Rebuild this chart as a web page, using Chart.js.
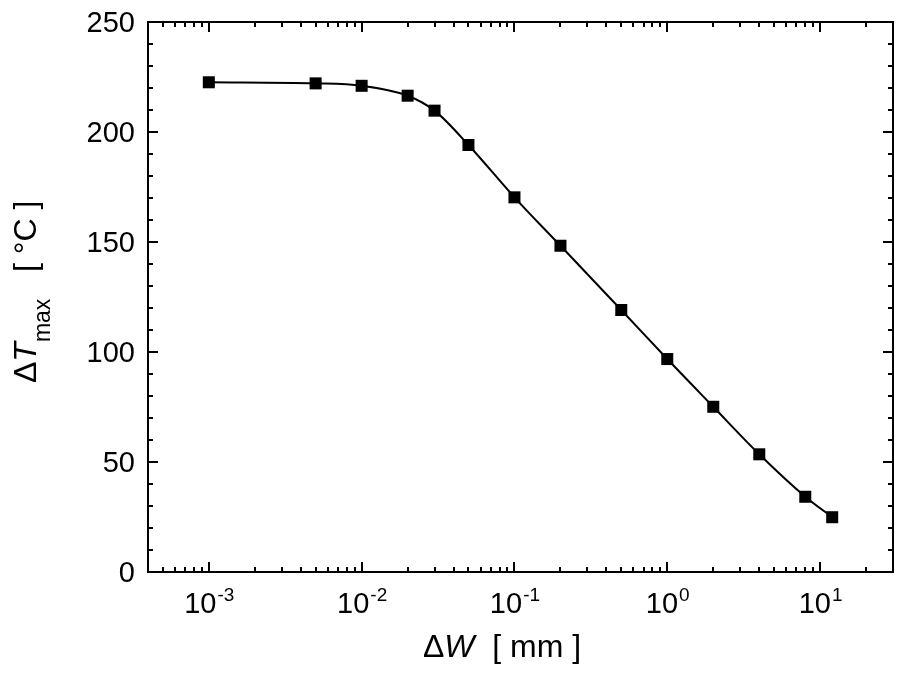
<!DOCTYPE html>
<html>
<head>
<meta charset="utf-8">
<script src="https://cdn.jsdelivr.net/npm/chart.js@4.4.1/dist/chart.umd.min.js"></script>
<style>
  html, body { margin: 0; padding: 0; background: #fff; }
</style>
</head>
<body>
<canvas id="grafico" width="904" height="674"></canvas>
<script>
// Dados: largura ΔW [mm] e ΔTmax [°C]
const larguras = [0.001, 0.005, 0.01, 0.02, 0.03, 0.05, 0.1, 0.2, 0.5, 1, 2, 4, 8, 12];
const deltaT = [222.6, 222.1, 221.0, 216.5, 209.7, 194.1, 170.3, 148.3, 119.1, 96.8, 75.1, 53.5, 34.2, 24.9];
const expoentesX = [-3, -2, -1, 0, 1];
const rotulosY = [0, 50, 100, 150, 200, 250];

const FONTE = "'Liberation Sans', Arial, sans-serif";

// Eixos no estilo Origin: moldura, ticks para dentro, rótulos 10^n e títulos
const eixos = {
  id: 'eixos',
  afterDraw(chart) {
    const ctx = chart.ctx;
    const a = chart.chartArea;
    const sx = chart.scales.x;
    const sy = chart.scales.y;
    ctx.save();
    ctx.strokeStyle = '#000';
    ctx.lineWidth = 2;
    ctx.strokeRect(a.left, a.top, a.right - a.left, a.bottom - a.top);

    ctx.beginPath();
    const eMin = Math.floor(Math.log10(sx.min));
    const eMax = Math.ceil(Math.log10(sx.max));
    for (let e = eMin; e <= eMax; e++) {
      for (let m = 1; m <= 9; m++) {
        const v = m * Math.pow(10, e);
        if (v <= sx.min * 1.001 || v >= sx.max * 0.999) continue;
        const px = Math.round(sx.getPixelForValue(v));
        const len = m === 1 ? 10 : 5;
        ctx.moveTo(px, a.bottom); ctx.lineTo(px, a.bottom - len);
        ctx.moveTo(px, a.top); ctx.lineTo(px, a.top + len);
      }
    }
    for (let v = sy.min + 10; v < sy.max; v += 10) {
      const py = Math.round(sy.getPixelForValue(v));
      const len = v % 50 === 0 ? 10 : 5;
      ctx.moveTo(a.left, py); ctx.lineTo(a.left + len, py);
      ctx.moveTo(a.right, py); ctx.lineTo(a.right - len, py);
    }
    ctx.stroke();

    ctx.fillStyle = '#000';
    ctx.textBaseline = 'alphabetic';

    // rótulos do eixo x: 10 com expoente
    expoentesX.forEach(e => {
      const px = sx.getPixelForValue(Math.pow(10, e));
      ctx.font = '29px ' + FONTE;
      const wBase = ctx.measureText('10').width;
      ctx.font = '19px ' + FONTE;
      const wExp = ctx.measureText(String(e)).width;
      const x0 = px - (wBase + wExp) / 2;
      ctx.textAlign = 'left';
      ctx.font = '29px ' + FONTE;
      ctx.fillText('10', x0, a.bottom + 41);
      ctx.font = '19px ' + FONTE;
      ctx.fillText(String(e), x0 + wBase + 1, a.bottom + 29);
    });

    // rótulos do eixo y
    ctx.font = '29px ' + FONTE;
    ctx.textAlign = 'right';
    rotulosY.forEach(v => {
      const py = sy.getPixelForValue(v);
      ctx.fillText(String(v), a.left - 13, py + 10);
    });

    // título do eixo x: ΔW [ mm ]
    const partesX = [
      { t: 'Δ', f: '32px ' + FONTE },
      { t: 'W', f: 'italic 32px ' + FONTE },
      { t: '  [ mm ]', f: '32px ' + FONTE }
    ];
    let total = 0;
    partesX.forEach(p => { ctx.font = p.f; p.w = ctx.measureText(p.t).width; total += p.w; });
    let x = 502 - total / 2;
    ctx.textAlign = 'left';
    partesX.forEach(p => { ctx.font = p.f; ctx.fillText(p.t, x, 657); x += p.w; });

    // título do eixo y: ΔTmax [ °C ]
    ctx.translate(36, 383);
    ctx.rotate(-Math.PI / 2);
    const partesY = [
      { t: 'Δ', f: '32px ' + FONTE, dy: 0 },
      { t: 'T', f: 'italic 32px ' + FONTE, dy: 0 },
      { t: 'max', f: '23px ' + FONTE, dy: 14 },
      { t: '   [ °C ]', f: '32px ' + FONTE, dy: 0 }
    ];
    let y = 0;
    partesY.forEach(p => {
      ctx.font = p.f;
      ctx.fillText(p.t, y, p.dy);
      y += ctx.measureText(p.t).width;
    });
    ctx.restore();
  }
};

const ctx = document.getElementById('grafico').getContext('2d');
const grafico = new Chart(ctx, {
  type: 'line',
  data: {
    datasets: [{
      data: larguras.map((w, i) => ({ x: w, y: deltaT[i] })),
      borderColor: '#000',
      borderWidth: 2,
      backgroundColor: '#000',
      pointStyle: 'rect',
      pointRadius: 8.5,
      pointBorderWidth: 0,
      cubicInterpolationMode: 'monotone',
      fill: false
    }]
  },
  options: {
    responsive: false,
    animation: false,
    devicePixelRatio: 1,
    layout: { padding: { top: 22, right: 11, left: 0, bottom: 0 } },
    plugins: { legend: { display: false }, tooltip: { enabled: false } },
    scales: {
      x: {
        type: 'logarithmic',
        min: 4e-4,
        max: 30,
        grid: { display: false },
        border: { display: false },
        ticks: { display: false },
        afterFit: s => { s.height = 102; }
      },
      y: {
        min: 0,
        max: 250,
        grid: { display: false },
        border: { display: false },
        ticks: { display: false },
        afterFit: s => { s.width = 148; }
      }
    }
  },
  plugins: [eixos]
});
</script>
</body>
</html>
